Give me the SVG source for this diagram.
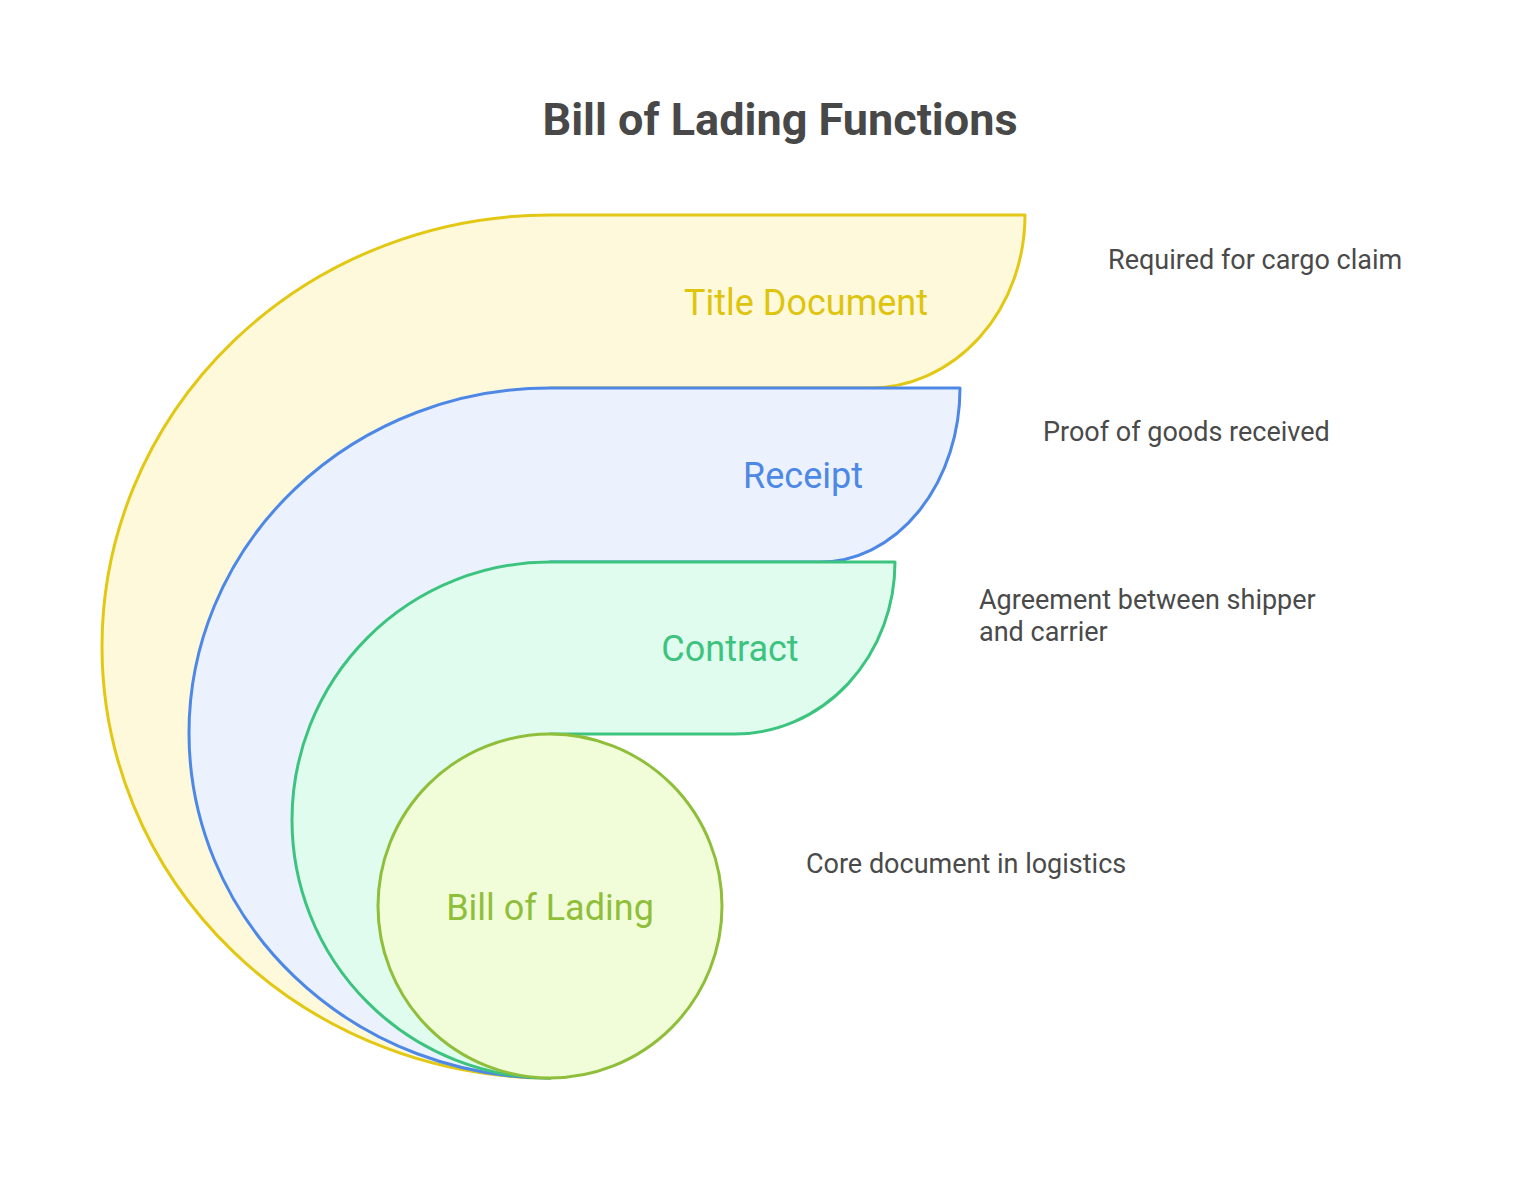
<svg xmlns="http://www.w3.org/2000/svg" width="1536" height="1188" viewBox="0 0 1536 1188">
<style>
.shape{stroke-width:3;stroke-linejoin:round}
.lbl{font-family:Roboto,"Liberation Sans",sans-serif;font-size:36px;text-anchor:middle}
.desc{font-family:Roboto,"Liberation Sans",sans-serif;font-size:27px;fill:#4a4a4a}
.title{font-family:Roboto,"Liberation Sans",sans-serif;font-size:45px;font-weight:bold;fill:#484848;text-anchor:middle}
</style>
<rect width="1536" height="1188" fill="#ffffff"/>
<text class="title" x="780" y="135">Bill of Lading Functions</text>
<g id="title-document">
<path class="shape" fill="#fef9db" stroke="#e2c815" d="M550,215 H1025 A155,173 0 0 1 870,388 H550 V1078 A448,431.5 0 0 1 550,215 Z"/>
<text class="lbl" x="806" y="315" fill="#dfc40e">Title Document</text>
</g>
<g id="receipt">
<path class="shape" fill="#ebf2fe" stroke="#4e88e6" d="M550,388 H960 A140,174 0 0 1 820,562 H550 V1078 A361,345 0 0 1 550,388 Z"/>
<text class="lbl" x="803" y="488" fill="#4e88e6">Receipt</text>
</g>
<g id="contract">
<path class="shape" fill="#e0fcee" stroke="#3cc47f" d="M550,562 H895 A160,172 0 0 1 735,734 H550 V1078 A258,258 0 0 1 550,562 Z"/>
<text class="lbl" x="730" y="661" fill="#3cc47f">Contract</text>
</g>
<g id="bill-of-lading">
<circle class="shape" cx="550" cy="906" r="172" fill="#f0fdd8" stroke="#8fbf3a"/>
<text class="lbl" x="550" y="920" fill="#8fbf3a">Bill of Lading</text>
</g>
<g id="descriptions">
<text class="desc" x="1108" y="269">Required for cargo claim</text>
<text class="desc" x="1043" y="441">Proof of goods received</text>
<text class="desc" x="979" y="609">Agreement between shipper</text>
<text class="desc" x="979" y="641">and carrier</text>
<text class="desc" x="806" y="873">Core document in logistics</text>
</g>
<g id="connectors"/>
</svg>
